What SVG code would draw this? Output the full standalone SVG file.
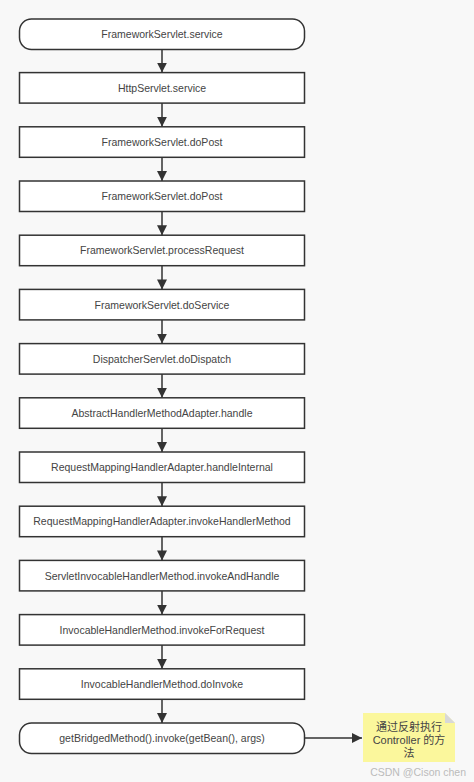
<svg xmlns="http://www.w3.org/2000/svg" width="474" height="782" viewBox="0 0 474 782">
<defs>
<marker id="ah" markerWidth="12" markerHeight="12" refX="10" refY="5" orient="auto" markerUnits="userSpaceOnUse">
<path d="M0,0 L10,5 L0,10 Z" fill="#333"/>
</marker>
<style>
.box{fill:#fff;stroke:#333;stroke-width:1.5}
.lbl{font-family:"Liberation Sans",Arial,sans-serif;font-size:10.5px;fill:#444;text-anchor:middle}
.edge{stroke:#333;stroke-width:1.5;fill:none;marker-end:url(#ah)}
.note{font-family:"Liberation Sans","Noto Sans CJK SC",sans-serif;font-size:11px;fill:#444;text-anchor:middle}
</style>
</defs>
<rect x="0" y="0" width="474" height="782" fill="#f8f8f8"/>
<g id="n0"><rect class="box" x="19.5" y="19" width="285" height="30.5" rx="12"/><text class="lbl" x="162" y="38.3">FrameworkServlet.service</text></g>
<g id="n1"><rect class="box" x="19.5" y="72.6" width="285" height="30.5"/><text class="lbl" x="162" y="91.8">HttpServlet.service</text></g>
<g id="n2"><rect class="box" x="19.5" y="126.8" width="285" height="30.5"/><text class="lbl" x="162" y="146">FrameworkServlet.doPost</text></g>
<g id="n3"><rect class="box" x="19.5" y="181" width="285" height="30.5"/><text class="lbl" x="162" y="200.2">FrameworkServlet.doPost</text></g>
<g id="n4"><rect class="box" x="19.5" y="235.2" width="285" height="30.5"/><text class="lbl" x="162" y="254.4">FrameworkServlet.processRequest</text></g>
<g id="n5"><rect class="box" x="19.5" y="289.4" width="285" height="30.5"/><text class="lbl" x="162" y="308.6">FrameworkServlet.doService</text></g>
<g id="n6"><rect class="box" x="19.5" y="343.6" width="285" height="30.5"/><text class="lbl" x="162" y="362.8">DispatcherServlet.doDispatch</text></g>
<g id="n7"><rect class="box" x="19.5" y="397.8" width="285" height="30.5"/><text class="lbl" x="162" y="417">AbstractHandlerMethodAdapter.handle</text></g>
<g id="n8"><rect class="box" x="19.5" y="452" width="285" height="30.5"/><text class="lbl" x="162" y="471.2">RequestMappingHandlerAdapter.handleInternal</text></g>
<g id="n9"><rect class="box" x="19.5" y="506.2" width="285" height="30.5"/><text class="lbl" x="162" y="525.4">RequestMappingHandlerAdapter.invokeHandlerMethod</text></g>
<g id="n10"><rect class="box" x="19.5" y="560.4" width="285" height="30.5"/><text class="lbl" x="162" y="579.6">ServletInvocableHandlerMethod.invokeAndHandle</text></g>
<g id="n11"><rect class="box" x="19.5" y="614.6" width="285" height="30.5"/><text class="lbl" x="162" y="633.8">InvocableHandlerMethod.invokeForRequest</text></g>
<g id="n12"><rect class="box" x="19.5" y="668.8" width="285" height="30.5"/><text class="lbl" x="162" y="688">InvocableHandlerMethod.doInvoke</text></g>
<g id="n13"><rect class="box" x="19.5" y="723" width="285" height="30.5" rx="12"/><text class="lbl" x="162" y="742.2">getBridgedMethod().invoke(getBean(), args)</text></g>
<g id="note">
<path d="M363,713 L445,713 L455,723 L455,762 L363,762 Z" fill="#fbf79c"/>
<path d="M445,713 L455,723 L445,723 Z" fill="#d8d8d8"/>
<text class="note" x="409" y="731">通过反射执行</text>
<text class="note" x="409" y="744">Controller 的方</text>
<text class="note" x="409" y="757">法</text>
</g>
<g id="edges">
<line class="edge" x1="162" y1="49.5" x2="162" y2="72.6"/>
<line class="edge" x1="162" y1="103.1" x2="162" y2="126.8"/>
<line class="edge" x1="162" y1="157.3" x2="162" y2="181"/>
<line class="edge" x1="162" y1="211.5" x2="162" y2="235.2"/>
<line class="edge" x1="162" y1="265.7" x2="162" y2="289.4"/>
<line class="edge" x1="162" y1="319.9" x2="162" y2="343.6"/>
<line class="edge" x1="162" y1="374.1" x2="162" y2="397.8"/>
<line class="edge" x1="162" y1="428.3" x2="162" y2="452"/>
<line class="edge" x1="162" y1="482.5" x2="162" y2="506.2"/>
<line class="edge" x1="162" y1="536.7" x2="162" y2="560.4"/>
<line class="edge" x1="162" y1="590.9" x2="162" y2="614.6"/>
<line class="edge" x1="162" y1="645.1" x2="162" y2="668.8"/>
<line class="edge" x1="162" y1="699.3" x2="162" y2="723"/>
<line class="edge" x1="304.5" y1="738" x2="362" y2="738"/>
</g>
<text x="466" y="776" font-family="'Liberation Sans',Arial,sans-serif" font-size="10.5" fill="#bbb" text-anchor="end">CSDN @Cison chen</text>
</svg>
